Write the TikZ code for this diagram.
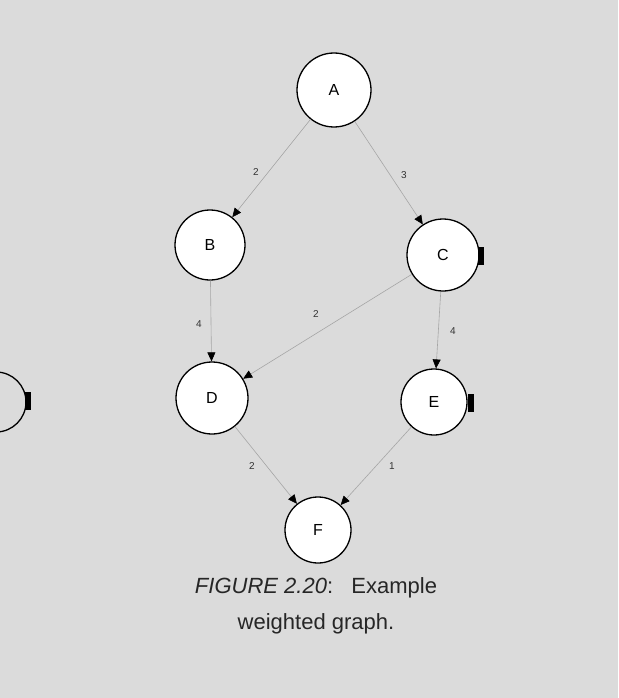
\documentclass[tikz,border=0pt]{standalone}
\usepackage{fontspec}
\setmainfont{Liberation Sans}
\usetikzlibrary{arrows.meta}
\begin{document}
\begin{tikzpicture}[x=1pt,y=-1pt,
  vert/.style={circle,draw=black,line width=1.3pt,fill=white,minimum size=66pt,inner sep=0pt,font=\fontsize{16}{16}\selectfont},
  edge/.style={draw=gray!70,line width=0.6pt,-{Triangle[length=9pt,width=8pt,black]}},
  wt/.style={font=\fontsize{10}{10}\selectfont,text=black!80},
  tick/.style={fill=black}]
\fill[black!14] (0,0) rectangle (618,698);
\useasboundingbox (0,0) rectangle (618,698);
\node[vert,minimum size=74pt] (A) at (334,90) {A};
\node[vert,minimum size=70pt] (B) at (210,245) {B};
\node[vert,minimum size=72pt] (C) at (443,255) {C};
\node[vert,minimum size=72pt] (D) at (212,398) {D};
\node[vert] (E) at (434,402) {E};
\node[vert] (F) at (318,530) {F};
\node[circle,draw=black,line width=1.3pt,minimum size=60pt] (G) at (-4,402) {};
\fill[tick] (478,247) rectangle (484,265);
\fill[tick] (468,394) rectangle (474,412);
\fill[tick] (25,392) rectangle (31,410);
\draw[edge] (A) -- (B);
\draw[edge] (A) -- (C);
\draw[edge] (B) -- (D);
\draw[edge] (C) -- (D);
\draw[edge] (C) -- (E);
\draw[edge] (D) -- (F);
\draw[edge] (E) -- (F);
\node[wt] (w1) at (256,172) {2};
\node[wt] (w2) at (404,175) {3};
\node[wt] (w3) at (199,324) {4};
\node[wt] (w4) at (316,314) {2};
\node[wt] (w5) at (453,331) {4};
\node[wt] (w6) at (252,466) {2};
\node[wt] (w7) at (392,466) {1};
\node[font=\fontsize{22}{22}\selectfont,text=black!85] (cap1) at (316,588) {\textit{FIGURE 2.20}:\ \ \ Example};
\node[font=\fontsize{22}{22}\selectfont,text=black!85] (cap2) at (316,624) {weighted graph.};
\end{tikzpicture}
\end{document}
